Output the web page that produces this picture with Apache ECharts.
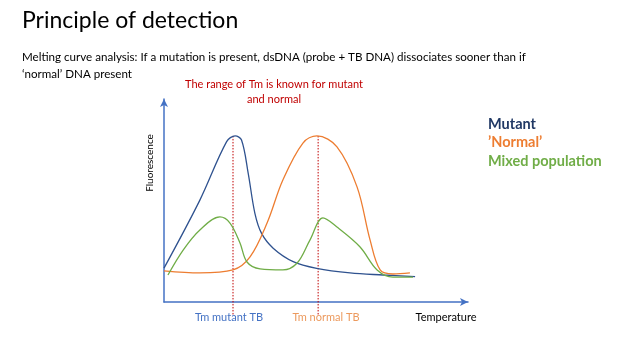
<!DOCTYPE html>
<html><head><meta charset="utf-8">
<script src="https://cdn.jsdelivr.net/npm/echarts@6/dist/echarts.min.js"></script>
<style>html,body{margin:0;padding:0;background:#fff}#c{width:638px;height:359px}</style>
</head><body><div id="c"></div>
<script>
// Temperature (0-100 arbitrary) vs Fluorescence (0-100 arbitrary)
var mutant = [[0,16.7],[11.8,50.2],[20.6,79],[23.4,81.8],[25.5,79.8],[27.7,63.4],[29.9,43.7],[32.1,33.8],[36.0,26.4],[42.5,19.9],[50.2,16.6],[61.2,14.3],[72.1,13.3],[82.6,12.5]];
var normal = [[0,15.3],[11.8,14.3],[22.7,15.8],[28.3,22.2],[33.9,38.9],[39.1,60.1],[45.7,78.3],[50.3,81.8],[56.9,76.4],[63.5,56.7],[67.8,30.5],[71.1,15.8],[75.3,13.8],[80.9,14.3]];
var mixed = [[1.3,13.3],[6.3,25.6],[11.8,35.5],[18.4,41.9],[21.7,38.9],[25.0,29.1],[27.3,19.7],[31.6,16.3],[39.1,15.8],[43.8,19.2],[48.0,30.5],[52.3,41.4],[56.9,36.9],[64.5,27.1],[70.1,15.8],[75.3,12.3],[81.9,12.3]];
var tmMutant = 22.7, tmNormal = 50.7, tmTop = 81.8, tmBottom = -6.4;
var seriesNames = ['Mutant', '\u2019Normal\u2019', 'Mixed population'];
var xLabels = ['Tm mutant TB', 'Tm normal TB', 'Temperature'];
var yLabel = 'Fluorescence';

var F = 'Lato, "Liberation Sans", sans-serif';
var chart = echarts.init(document.getElementById('c'), null, {renderer:'canvas'});
function curve(name, data, color){
  return {name:name, type:'line', data:data, smooth:0.35, symbol:'none', lineStyle:{color:color,width:1.3}, itemStyle:{color:color}, silent:true};
}
function tmLine(x){
  return {type:'line', data:[[x,tmTop],[x,tmBottom]], symbol:'none', clip:false, lineStyle:{color:'#C00000',width:1,type:[1.5,1.5]}, silent:true};
}
chart.setOption({
  animation:false,
  grid:{left:164, top:99, width:304, height:203},
  xAxis:{type:'value', min:0, max:100, axisLine:{lineStyle:{color:'#4472C4',width:1.5}, symbol:['none','arrow'], symbolSize:[6,8]}, axisTick:{show:false}, axisLabel:{show:false}, splitLine:{show:false}},
  yAxis:{type:'value', min:0, max:100, axisLine:{show:true, lineStyle:{color:'#4472C4',width:1.5}, symbol:['none','arrow'], symbolSize:[6,8]}, axisTick:{show:false}, axisLabel:{show:false}, splitLine:{show:false}},
  series:[
    tmLine(tmMutant), tmLine(tmNormal),
    curve(seriesNames[0], mutant, '#2F528F'),
    curve(seriesNames[1], normal, '#ED7D31'),
    curve(seriesNames[2], mixed, '#70AD47')
  ],
  graphic:[
    {type:'text', left:22, top:9, style:{text:'Principle of detection', font:'23px '+F, fill:'#000'}},
    {type:'text', left:22, top:49, style:{text:'Melting curve analysis: If a mutation is present, dsDNA (probe + TB DNA) dissociates sooner than if\n\u2018normal\u2019 DNA present', font:'11.6px '+F, fill:'#000', lineHeight:17}},
    {type:'text', x:274, y:92, style:{text:'The range of Tm is known for mutant\nand normal', font:'11px '+F, fill:'#C00000', align:'center', verticalAlign:'middle', lineHeight:15}},
    {type:'text', x:488, y:124, style:{text:seriesNames[0], font:'bold 14.5px '+F, fill:'#203864', verticalAlign:'middle'}},
    {type:'text', x:488, y:142, style:{text:seriesNames[1], font:'bold 14.5px '+F, fill:'#ED7D31', verticalAlign:'middle'}},
    {type:'text', x:488, y:161, style:{text:seriesNames[2], font:'bold 14.5px '+F, fill:'#70AD47', verticalAlign:'middle'}},
    {type:'text', x:229, y:317, style:{text:xLabels[0], font:'11px '+F, fill:'#4472C4', align:'center', verticalAlign:'middle'}},
    {type:'text', x:326, y:317, style:{text:xLabels[1], font:'11px '+F, fill:'#EC9A5E', align:'center', verticalAlign:'middle'}},
    {type:'text', x:446, y:317, style:{text:xLabels[2], font:'11px '+F, fill:'#000', align:'center', verticalAlign:'middle'}},
    {type:'text', x:150, y:163, rotation:Math.PI/2, style:{text:yLabel, font:'10px '+F, fill:'#000', align:'center', verticalAlign:'middle'}}
  ]
});
</script></body></html>
